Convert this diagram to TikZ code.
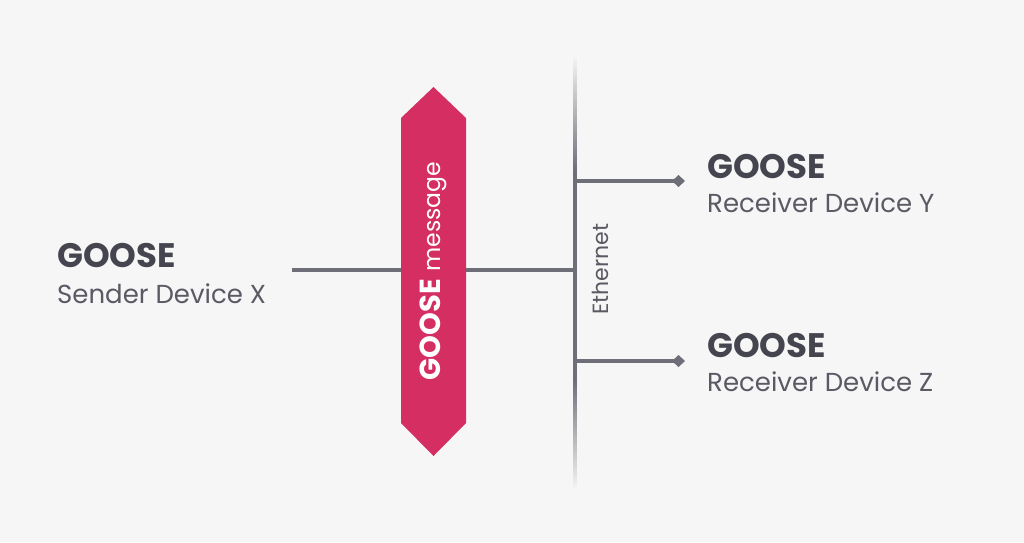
\documentclass[tikz,border=0pt]{standalone}
\usepackage{fontspec}
\setmainfont{Poppins}
\usetikzlibrary{positioning,arrows.meta}
\definecolor{bgcol}{HTML}{F6F6F7}
\definecolor{linecol}{HTML}{6E6E78}
\definecolor{goosecol}{HTML}{D42E63}
\definecolor{headcol}{HTML}{45454F}
\definecolor{subcol}{HTML}{5A5A64}
\begin{document}
\begin{tikzpicture}[x=1pt, y=-1pt,
    head/.style={font=\fontsize{34}{36}\selectfont\bfseries, text=headcol, inner sep=0pt, anchor=base west},
    sub/.style={font=\fontsize{26}{28}\selectfont, text=subcol, inner sep=0pt, anchor=base west},
    link/.style={draw=linecol, line width=3.5pt}]
    \fill[bgcol] (0,0) rectangle (1024,542);
    % ethernet bus
    \coordinate (E0) at (575,55);
    \coordinate (E1) at (575,170);
    \coordinate (E2) at (575,380);
    \coordinate (E3) at (575,490);
    \shade[top color=bgcol, bottom color=linecol] (573.25,55) rectangle (576.75,170.5);
    \draw[link] (E1) -- (E2);
    \shade[top color=linecol, bottom color=bgcol] (573.25,379.5) rectangle (576.75,490);
    \node[rotate=90, font=\fontsize{22}{24}\selectfont, text=subcol] (ETH) at (600,269) {Ethernet};
    % sender
    \node[head] (GX) at (57,267) {GOOSE};
    \node[sub] (SX) at (57,303) {Sender Device X};
    \coordinate (X1) at (292,270);
    \coordinate (X2) at (575,270);
    \draw[link] (X1) -- (X2);
    % receivers
    \coordinate (Y1) at (575,181);
    \coordinate (Y2) at (685,181);
    \coordinate (Z1) at (575,361);
    \coordinate (Z2) at (685,361);
    \draw[link, -{Diamond[length=13pt, width=12pt]}] (Y1) -- (Y2);
    \draw[link, -{Diamond[length=13pt, width=12pt]}] (Z1) -- (Z2);
    \node[head] (GY) at (707,178) {GOOSE};
    \node[sub] (RY) at (707,212) {Receiver Device Y};
    \node[head] (GZ) at (707,357) {GOOSE};
    \node[sub] (RZ) at (707,391) {Receiver Device Z};
    % message
    \fill[goosecol] (401,118) -- (433.5,87) -- (466,118) -- (466,423) -- (433.5,456) -- (401,423) -- cycle;
    \node[rotate=90, text=white] (MSG) at (433.5,271) {\fontsize{29}{30}\selectfont\textbf{GOOSE} \fontsize{23.5}{24}\selectfont message};
\end{tikzpicture}
\end{document}
